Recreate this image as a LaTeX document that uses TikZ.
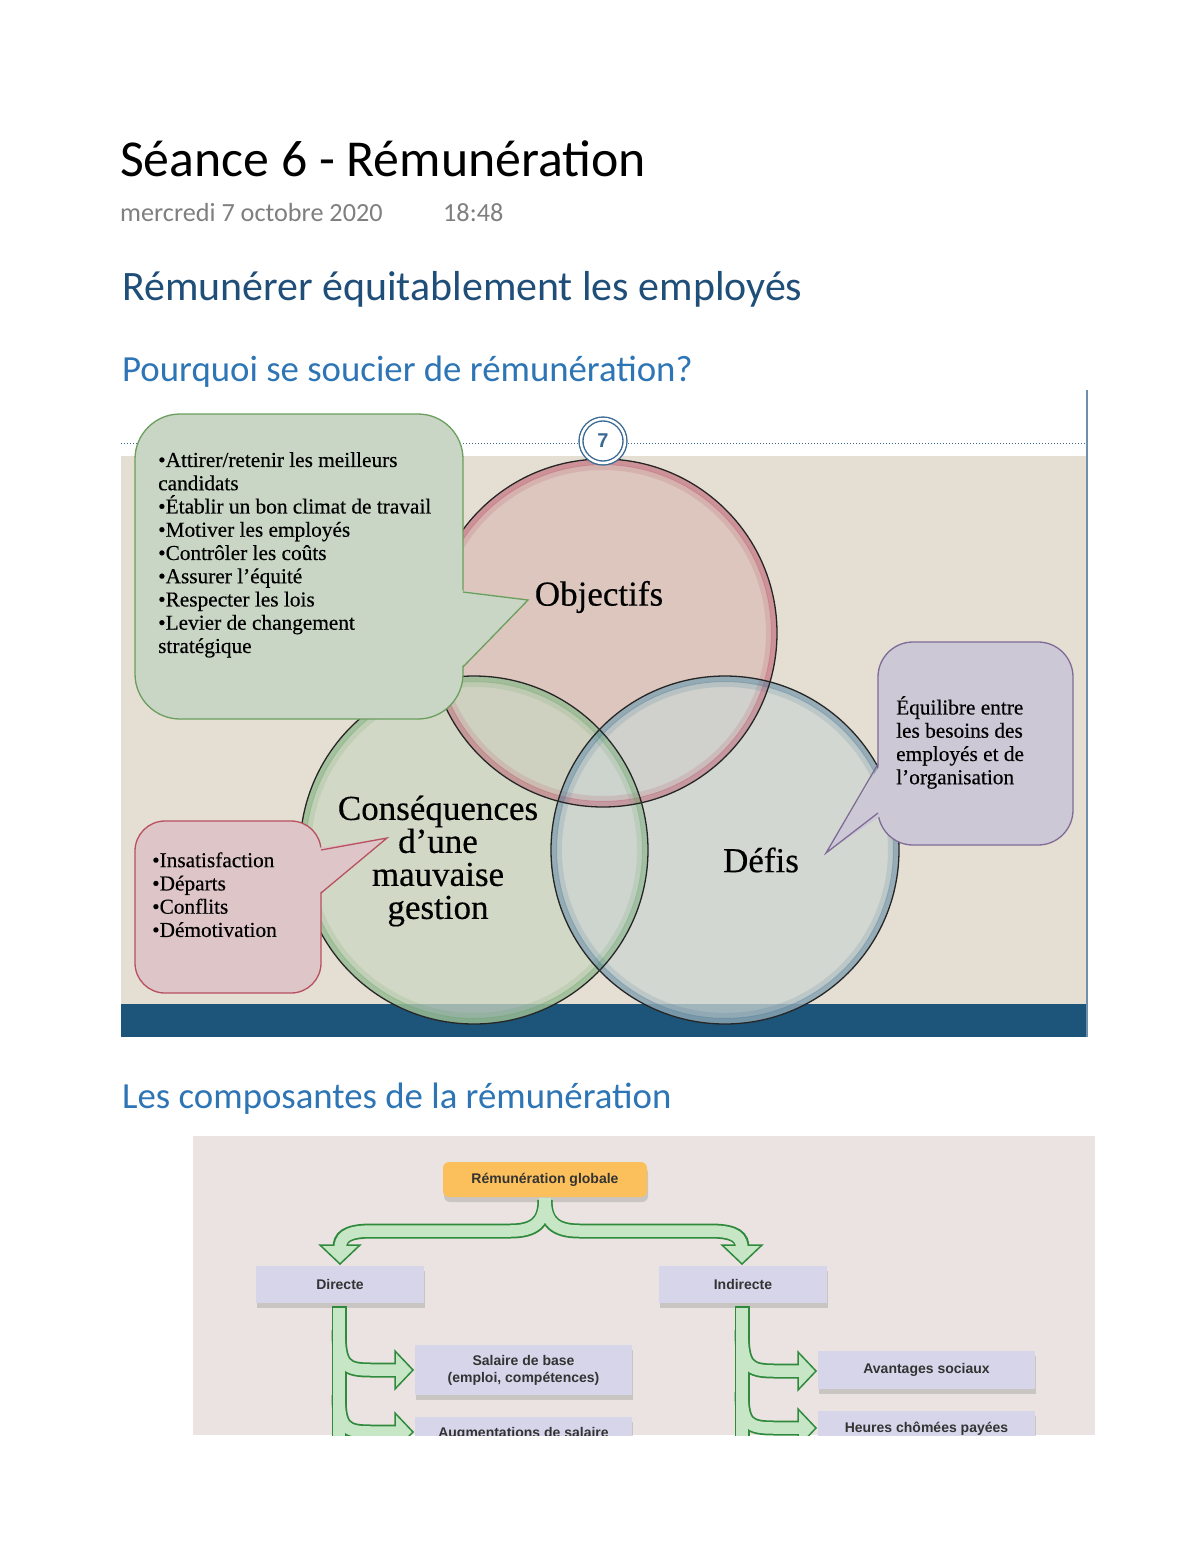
\documentclass[tikz,border=0pt]{standalone}
\usepackage{fontspec}
\setmainfont{Carlito}
\newfontfamily\slidefont[FakeBold=0.35]{Liberation Serif}
\newfontfamily\figfont{Liberation Sans}
\usetikzlibrary{shadows}
\definecolor{hOne}{HTML}{1F4E79}
\definecolor{hTwo}{HTML}{2E75B5}
\definecolor{dategray}{HTML}{7F7F7F}
\definecolor{slidebg}{HTML}{E5DED3}
\definecolor{bandblue}{HTML}{1C5579}
\definecolor{frameline}{HTML}{6F8FAF}
\definecolor{badgeblue}{HTML}{3A6A94}
\definecolor{redfill}{HTML}{D9BFB8}
\definecolor{greenfill}{HTML}{CBD6C1}
\definecolor{bluefill}{HTML}{CDD5D2}
\definecolor{redglow}{HTML}{B8445E}
\definecolor{greenglow}{HTML}{5FA060}
\definecolor{blueglow}{HTML}{3C7090}
\definecolor{gcfill}{HTML}{C9D5C5}
\definecolor{gcedge}{HTML}{6A9F5E}
\definecolor{pcfill}{HTML}{DEC5C7}
\definecolor{pcedge}{HTML}{B7505F}
\definecolor{vcfill}{HTML}{CDC8D6}
\definecolor{vcedge}{HTML}{7E6C96}
\definecolor{figbg}{HTML}{EAE3E1}
\definecolor{orangebox}{HTML}{FBC05B}
\definecolor{lavbox}{HTML}{D7D5EA}
\definecolor{arrowlight}{HTML}{C6E6C6}
\definecolor{arrowdark}{HTML}{2F8A3C}
\tikzset{
  heading/.style={anchor=base west, inner sep=0},
  slidetext/.style={anchor=north west, inner sep=0, align=left, text=black,
    font=\slidefont\fontsize{21.3}{23.25}\selectfont},
  bigtext/.style={inner sep=0, align=center, text=black,
    font=\slidefont\fontsize{35}{33}\selectfont},
  venn/.style={circle, minimum size=348pt, inner sep=0, fill opacity=.75},
  glowA/.style={line width=6pt, opacity=.4},
  glowB/.style={line width=6pt, opacity=.15},
  figbox/.style={fill=lavbox, inner sep=0, text=black!80,
    font=\figfont\bfseries\fontsize{14}{17}\selectfont, align=center,
    drop shadow={opacity=.3, shadow xshift=1pt, shadow yshift=-5pt}},
  bandout/.style={line width=15pt, draw=arrowdark},
  bandin/.style={line width=11.5pt, draw=arrowlight},
  ahead/.style={fill=arrowlight, draw=arrowdark, line width=1.5pt, line join=miter},
}
\begin{document}
\begin{tikzpicture}[x=1pt,y=-1pt]
\useasboundingbox[fill=white] (0,0) rectangle (1200,1553);

% ---------- headings ----------
\node[heading, font=\fontsize{51.8}{52}\selectfont] (title) at (120,176) {Séance 6 - Rémunération};
\node[heading, text=dategray, font=\fontsize{26.2}{26}\selectfont] (date) at (120,221) {mercredi 7 octobre 2020};
\node[heading, text=dategray, font=\fontsize{26.2}{26}\selectfont] (time) at (443,221) {18:48};
\node[heading, text=hOne, font=\fontsize{41.9}{42}\selectfont] (hone) at (122,300) {Rémunérer équitablement les employés};
\node[heading, text=hTwo, font=\fontsize{36.8}{37}\selectfont] (htwoa) at (122,381) {Pourquoi se soucier de rémunération?};
\node[heading, text=hTwo, font=\fontsize{36.8}{37}\selectfont] (htwob) at (122,1108) {Les composantes de la rémunération};

% ---------- slide ----------
\draw[badgeblue, dotted, line width=1pt] (121,443) -- (578,443);
\draw[badgeblue, dotted, line width=1pt] (628,443) -- (1087,443);
\fill[slidebg] (121,456) rectangle (1087,1004);
\fill[bandblue] (121,1004) rectangle (1086,1037);

\node[venn, fill=redfill] (objc) at (603,633) {};
\node[venn, fill=greenfill] (consc) at (474,850) {};
\node[venn, fill=bluefill] (defc) at (725,850) {};
\draw[glowA, redglow] (objc.center) circle[radius=171pt];
\draw[glowB, redglow] (objc.center) circle[radius=166pt];
\draw[glowA, greenglow] (consc.center) circle[radius=171pt];
\draw[glowB, greenglow] (consc.center) circle[radius=166pt];
\draw[glowA, blueglow] (defc.center) circle[radius=171pt];
\draw[glowB, blueglow] (defc.center) circle[radius=166pt];
\draw[black!85, line width=1.3pt] (objc.center) circle[radius=174pt];
\draw[black!85, line width=1.3pt] (consc.center) circle[radius=174pt];
\draw[black!85, line width=1.3pt] (defc.center) circle[radius=174pt];

\draw[frameline, line width=1.2pt] (1087,390) -- (1087,1037);

\node[circle, draw=badgeblue, double=white, double distance=2.5pt, line width=1.4pt,
  fill=white, minimum size=44pt, inner sep=0, text=badgeblue,
  font=\figfont\bfseries\fontsize{20}{20}\selectfont] (badge) at (603,441) {7};

% green callout
\filldraw[fill=gcfill, draw=gcedge, line width=1.3pt, rounded corners=45pt] (135,414) rectangle (463,719);
\coordinate (gtip) at (528,600);
\fill[gcfill] (459,590) -- (gtip) -- (459,669) -- cycle;
\draw[gcedge, line width=1.3pt, line join=miter] (463,592) -- (gtip) -- (463,667);
\node[slidetext] (gtext) at (158,452) {•Attirer/retenir les meilleurs\\candidats\\•Établir un bon climat de travail\\•Motiver les employés\\•Contrôler les coûts\\•Assurer l’équité\\•Respecter les lois\\•Levier de changement\\stratégique};

% pink callout
\filldraw[fill=pcfill, draw=pcedge, line width=1.3pt, rounded corners=30pt] (135,821) rectangle (321,993);
\coordinate (ptip) at (387,838);
\fill[pcfill] (317,848) -- (ptip) -- (317,895) -- cycle;
\draw[pcedge, line width=1.3pt, line join=miter] (321,850) -- (ptip) -- (321,893);
\node[slidetext] (ptext) at (152,852) {•Insatisfaction\\•Départs\\•Conflits\\•Démotivation};

% purple callout
\filldraw[fill=vcfill, draw=vcedge, line width=1.3pt, rounded corners=35pt] (878,642) rectangle (1073,845);
\coordinate (vtip) at (826,853);
\fill[vcfill] (882,762) -- (vtip) -- (882,815) -- cycle;
\draw[vcedge, line width=1.3pt, line join=miter] (878,764) -- (vtip) -- (878,813);
\node[slidetext] (vtext) at (896,696) {Équilibre entre\\les besoins des\\employés et de\\l’organisation};

% circle labels
\node[bigtext] (objl) at (599,597) {Objectifs};
\node[bigtext] (defl) at (761,860) {Défis};
\node[bigtext] (consl) at (438,861) {Conséquences\\d’une\\mauvaise\\gestion};

% ---------- second figure ----------
\begin{scope}
\clip (193,1136) rectangle (1095,1435);
\fill[figbg] (193,1136) rectangle (1095,1435);

\node[figbox, fill=orangebox, rounded corners=6pt, minimum width=204pt, minimum height=35pt] (glob) at (545,1179.5) {Rémunération globale};
\node[figbox, minimum width=168pt, minimum height=37pt] (dir) at (340,1284.5) {Directe};
\node[figbox, minimum width=168pt, minimum height=37pt] (ind) at (743,1284.5) {Indirecte};
\node[figbox, minimum width=217pt, minimum height=50pt] (sal) at (523.5,1370) {Salaire de base\\(emploi, compétences)};
\node[figbox, minimum width=217pt, minimum height=34pt] (aug) at (523.5,1434) {Augmentations de salaire};
\node[figbox, minimum width=217pt, minimum height=38pt] (avs) at (926.5,1370) {Avantages sociaux};
\node[figbox, minimum width=217pt, minimum height=36pt] (hcp) at (926.5,1429) {Heures chômées payées};

% outer bands
\draw[bandout] (545,1200) .. controls (545,1222) and (535,1231) .. (510,1231) -- (372,1231) .. controls (345,1231) and (340,1238) .. (340,1248);
\draw[bandout] (545,1200) .. controls (545,1222) and (555,1231) .. (580,1231) -- (710,1231) .. controls (737,1231) and (742,1238) .. (742,1248);
\draw[bandout] (339,1306) -- (339,1445);
\draw[bandout] (339,1330) .. controls (339,1366) and (345,1370) .. (372,1370) -- (396,1370);
\draw[bandout] (339,1395) .. controls (339,1428) and (345,1432) .. (372,1432) -- (396,1432);
\draw[bandout] (742,1306) -- (742,1445);
\draw[bandout] (742,1330) .. controls (742,1366) and (748,1371) .. (775,1371) -- (799,1371);
\draw[bandout] (742,1392) .. controls (742,1424) and (748,1428) .. (775,1428) -- (799,1428);
% arrow heads
\filldraw[ahead] (320,1245) -- (360,1245) -- (340,1264) -- cycle;
\filldraw[ahead] (722,1245) -- (762,1245) -- (742,1264) -- cycle;
\filldraw[ahead] (395,1351) -- (395,1389) -- (413,1370) -- cycle;
\filldraw[ahead] (395,1413) -- (395,1451) -- (413,1432) -- cycle;
\filldraw[ahead] (798,1352) -- (798,1390) -- (816,1371) -- cycle;
\filldraw[ahead] (798,1409) -- (798,1447) -- (816,1428) -- cycle;
% inner bands
\draw[bandin] (545,1198) .. controls (545,1222) and (535,1231) .. (510,1231) -- (372,1231) .. controls (345,1231) and (340,1238) .. (340,1250);
\draw[bandin] (545,1198) .. controls (545,1222) and (555,1231) .. (580,1231) -- (710,1231) .. controls (737,1231) and (742,1238) .. (742,1250);
\draw[bandin] (339,1308) -- (339,1445);
\draw[bandin] (339,1330) .. controls (339,1366) and (345,1370) .. (372,1370) -- (399,1370);
\draw[bandin] (339,1395) .. controls (339,1428) and (345,1432) .. (372,1432) -- (399,1432);
\draw[bandin] (742,1308) -- (742,1445);
\draw[bandin] (742,1330) .. controls (742,1366) and (748,1371) .. (775,1371) -- (802,1371);
\draw[bandin] (742,1392) .. controls (742,1424) and (748,1428) .. (775,1428) -- (802,1428);
\end{scope}
\end{tikzpicture}
\end{document}
